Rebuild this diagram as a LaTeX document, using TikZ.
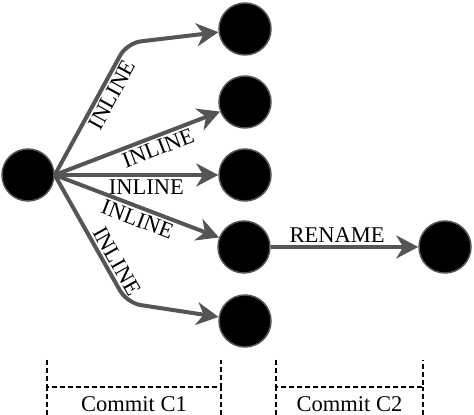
\documentclass[tikz,border=0pt]{standalone}
\usepackage{fontspec}
\setmainfont{Liberation Serif}
\usetikzlibrary{arrows.meta,positioning}
\definecolor{edgegrey}{RGB}{85,85,85}
\tikzset{
  vtx/.style={circle,draw=edgegrey,line width=1.5pt,fill=black,
              minimum size=52pt,inner sep=0pt},
  flow/.style={-{Stealth[length=22pt,width=23pt,inset=7pt]},line width=4pt,
               draw=edgegrey,rounded corners=14pt},
  lbl/.style={font=\fontsize{22.5}{26}\selectfont,inner sep=2.5pt,sloped},
  brk/.style={dash pattern=on 5pt off 3pt,line width=1.3pt},
  cmt/.style={font=\fontsize{22.5}{26}\selectfont,anchor=base,inner sep=0pt},
}

\begin{document}
\begin{tikzpicture}[x=1pt,y=1pt]
  \useasboundingbox (0,0) rectangle (474,415);

  \node[vtx] (src) at (28,240)  {};
  \node[vtx] (c1)  at (245,386) {};
  \node[vtx] (c2)  at (245,313) {};
  \node[vtx] (c3)  at (245,240) {};
  \node[vtx] (c4)  at (244,168) {};
  \node[vtx] (c5)  at (245,94)  {};
  \node[vtx] (rn)  at (445,168) {};

  \coordinate (b1) at (127,372);
  \coordinate (b5) at (127,112);

  \draw[flow] (src.east) -- node[lbl,below,pos=0.65]{INLINE} (b1) -- (c1);
  \draw[flow] (src.east) -- node[lbl,below,pos=0.6]{INLINE} (c2);
  \draw[flow] (src.east) -- node[lbl,below,pos=0.56]{INLINE} (c3);
  \draw[flow] (src.east) -- node[lbl,below,pos=0.53]{INLINE} (c4);
  \draw[flow] (src.east) -- node[lbl,above,pos=0.72]{INLINE} (b5) -- (c5);
  \draw[flow] (c4) -- node[lbl,above,pos=0.45]{RENAME} (rn);

  % commit brackets
  \draw[brk] (47,55) -- (47,28) -- (221,28) -- (221,55);
  \draw[brk] (47,0) -- (47,28) (221,0) -- (221,28);
  \draw[brk] (276,55) -- (276,28) -- (423,28) -- (423,55);
  \draw[brk] (276,0) -- (276,28) (423,0) -- (423,28);
  \node[cmt] (k1) at (134,3) {Commit C1};
  \node[cmt] (k2) at (349.5,3) {Commit C2};
\end{tikzpicture}
\end{document}
